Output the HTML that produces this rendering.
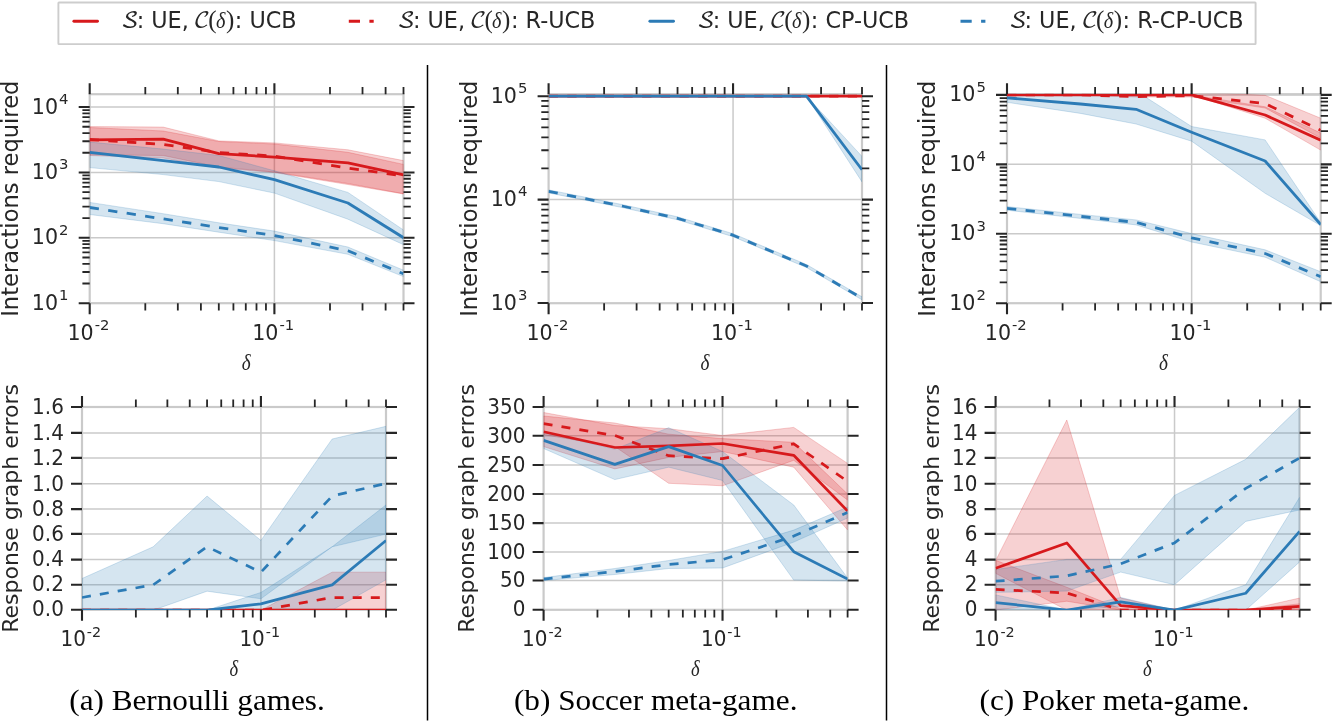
<!DOCTYPE html>
<html lang="en"><head><meta charset="utf-8"><title>Figure</title>
<style>html,body{margin:0;padding:0;background:#fff}body{width:1334px;height:724px;overflow:hidden}svg{display:block}</style>
</head><body>
<svg width="1334" height="724" viewBox="0 0 1334 724">
<rect width="1334" height="724" fill="#fff"/>
<defs>
<clipPath id="c1"><rect x="89.7" y="93.8" width="313.8" height="209.4"/></clipPath>
<clipPath id="c2"><rect x="548.6" y="93.8" width="313.4" height="209.4"/></clipPath>
<clipPath id="c3"><rect x="1007" y="93.8" width="313.7" height="209.4"/></clipPath>
<clipPath id="c4"><rect x="82" y="407" width="304" height="203.1"/></clipPath>
<clipPath id="c5"><rect x="543.6" y="407" width="304" height="203.1"/></clipPath>
<clipPath id="c6"><rect x="995.6" y="407" width="304" height="203.1"/></clipPath>
</defs>
<g>
<path d="M274.4 94.2V303.2M89.7 237.82H403.5M89.7 172.43H403.5M89.7 107.05H403.5" stroke="#cacaca" stroke-width="1.5" fill="none"/>
<rect x="89.7" y="94.2" width="313.8" height="209" fill="none" stroke="#cacaca" stroke-width="2.2"/>
<g clip-path="url(#c1)">
<polygon points="89.7,126.6 163.2,127.1 218.8,140.9 274.4,142.9 347.9,149.8 403.5,160.6 403.5,193.7 347.9,183.5 274.4,172 218.8,167 163.2,155.5 89.7,154.8" fill="#d7191c" fill-opacity="0.2" stroke="#d7191c" stroke-opacity="0.35" stroke-width="0.6" stroke-linejoin="round"/>
<polygon points="89.7,127.5 163.2,131 218.8,141.5 274.4,144 347.9,152.3 403.5,164.4 403.5,194 347.9,184.5 274.4,172.5 218.8,168 163.2,158 89.7,155.5" fill="#d7191c" fill-opacity="0.2" stroke="#d7191c" stroke-opacity="0.35" stroke-width="0.6" stroke-linejoin="round"/>
<polygon points="89.7,142.1 163.2,149.1 218.8,155.5 274.4,170.8 347.9,192.4 403.5,230 403.5,244.7 347.9,219.2 274.4,193.1 218.8,181.6 163.2,174.6 89.7,167.6" fill="#2c7bb6" fill-opacity="0.2" stroke="#2c7bb6" stroke-opacity="0.35" stroke-width="0.6" stroke-linejoin="round"/>
<polygon points="89.7,202.4 163.2,213.7 218.8,222.8 274.4,231.1 347.9,247 403.5,270.2 403.5,276.6 347.9,254.3 274.4,240.6 218.8,232.2 163.2,223.7 89.7,214.5" fill="#2c7bb6" fill-opacity="0.2" stroke="#2c7bb6" stroke-opacity="0.35" stroke-width="0.6" stroke-linejoin="round"/>
<path d="M89.7 139.9 L163.2 139.2 L218.8 153.6 L274.4 157.1 L347.9 162.9 L403.5 174.9" fill="none" stroke="#d7191c" stroke-width="2.8" stroke-linejoin="round" stroke-linecap="butt"/>
<path d="M89.7 139.5 L163.2 144.4 L218.8 152.5 L274.4 156.1 L347.9 168.2 L403.5 175.8" fill="none" stroke="#d7191c" stroke-width="2.8" stroke-linejoin="round" stroke-linecap="butt" stroke-dasharray="9.3 9.4"/>
<path d="M89.7 152.3 L163.2 160.6 L218.8 167 L274.4 179.7 L347.9 203 L403.5 237.7" fill="none" stroke="#2c7bb6" stroke-width="2.8" stroke-linejoin="round" stroke-linecap="butt"/>
<path d="M89.7 207.5 L163.2 218.9 L218.8 227.5 L274.4 235.5 L347.9 250.8 L403.5 273.8" fill="none" stroke="#2c7bb6" stroke-width="2.8" stroke-linejoin="round" stroke-linecap="butt" stroke-dasharray="9.3 9.4"/>
</g>

<path d="M145.3 303.2v7.3M145.3 94.2v-7.3M177.82 303.2v7.3M177.82 94.2v-7.3M200.9 303.2v7.3M200.9 94.2v-7.3M218.8 303.2v7.3M218.8 94.2v-7.3M233.42 303.2v7.3M233.42 94.2v-7.3M245.79 303.2v7.3M245.79 94.2v-7.3M256.5 303.2v7.3M256.5 94.2v-7.3M265.95 303.2v7.3M265.95 94.2v-7.3M330 303.2v7.3M330 94.2v-7.3M362.52 303.2v7.3M362.52 94.2v-7.3M385.6 303.2v7.3M385.6 94.2v-7.3M403.5 303.2v7.3M403.5 94.2v-7.3M89.7 283.52h-7.3M403.5 283.52h7.3M89.7 272h-7.3M403.5 272h7.3M89.7 263.84h-7.3M403.5 263.84h7.3M89.7 257.5h-7.3M403.5 257.5h7.3M89.7 252.32h-7.3M403.5 252.32h7.3M89.7 247.94h-7.3M403.5 247.94h7.3M89.7 244.15h-7.3M403.5 244.15h7.3M89.7 240.81h-7.3M403.5 240.81h7.3M89.7 218.13h-7.3M403.5 218.13h7.3M89.7 206.62h-7.3M403.5 206.62h7.3M89.7 198.45h-7.3M403.5 198.45h7.3M89.7 192.12h-7.3M403.5 192.12h7.3M89.7 186.94h-7.3M403.5 186.94h7.3M89.7 182.56h-7.3M403.5 182.56h7.3M89.7 178.77h-7.3M403.5 178.77h7.3M89.7 175.43h-7.3M403.5 175.43h7.3M89.7 152.75h-7.3M403.5 152.75h7.3M89.7 141.24h-7.3M403.5 141.24h7.3M89.7 133.07h-7.3M403.5 133.07h7.3M89.7 126.73h-7.3M403.5 126.73h7.3M89.7 121.56h-7.3M403.5 121.56h7.3M89.7 117.18h-7.3M403.5 117.18h7.3M89.7 113.39h-7.3M403.5 113.39h7.3M89.7 110.04h-7.3M403.5 110.04h7.3" stroke="#262626" stroke-width="1.8" fill="none"/>
<path d="M89.7 303.2v11M89.7 94.2v-11M274.4 303.2v11M274.4 94.2v-11M89.7 303.2h-11M403.5 303.2h11M89.7 237.82h-11M403.5 237.82h11M89.7 172.43h-11M403.5 172.43h11M89.7 107.05h-11M403.5 107.05h11" stroke="#262626" stroke-width="2.1" fill="none"/>
<g fill="#262626" font-family="'DejaVu Sans', 'Liberation Sans', sans-serif">
<text transform="translate(88.5 339.7)" text-anchor="middle" font-size="20.6">10<tspan dx="1" dy="-9.7" font-size="14.8">-2</tspan></text>
<text transform="translate(273.2 339.7)" text-anchor="middle" font-size="20.6">10<tspan dx="1" dy="-9.7" font-size="14.8">-1</tspan></text>
<text transform="translate(68.5 309.7)" text-anchor="end" font-size="20.6">10<tspan dx="1" dy="-9.7" font-size="14.8">1</tspan></text>
<text transform="translate(68.5 244.32)" text-anchor="end" font-size="20.6">10<tspan dx="1" dy="-9.7" font-size="14.8">2</tspan></text>
<text transform="translate(68.5 178.93)" text-anchor="end" font-size="20.6">10<tspan dx="1" dy="-9.7" font-size="14.8">3</tspan></text>
<text transform="translate(68.5 113.55)" text-anchor="end" font-size="20.6">10<tspan dx="1" dy="-9.7" font-size="14.8">4</tspan></text>
<text transform="translate(17.6 198.7) rotate(-90)" text-anchor="middle" font-size="22.6">Interactions required</text>
</g>
<text transform="translate(246.3 369.5) scale(0.84 1)" text-anchor="middle" font-size="22.8" font-style="italic" fill="#262626" font-family="'Liberation Serif', 'DejaVu Serif', serif">δ</text>
</g>
<g>
<path d="M733.06 94.2V303.2M548.6 199.6H862M548.6 96.2H862" stroke="#cacaca" stroke-width="1.5" fill="none"/>
<rect x="548.6" y="94.2" width="313.4" height="209" fill="none" stroke="#cacaca" stroke-width="2.2"/>
<g clip-path="url(#c2)">
<polygon points="548.6,96.2 622.01,96.2 677.54,96.2 733.06,96.2 806.47,96.2 862,156.4 862,181.9 806.47,96.2 733.06,96.2 677.54,96.2 622.01,96.2 548.6,96.2" fill="#2c7bb6" fill-opacity="0.2" stroke="#2c7bb6" stroke-opacity="0.35" stroke-width="0.6" stroke-linejoin="round"/>
<polygon points="548.6,189.9 622.01,204.5 677.54,216.8 733.06,233.7 806.47,264.5 862,296.8 862,299.8 806.47,267.5 733.06,236.7 677.54,219.8 622.01,207.5 548.6,192.9" fill="#2c7bb6" fill-opacity="0.2" stroke="#2c7bb6" stroke-opacity="0.35" stroke-width="0.6" stroke-linejoin="round"/>
<path d="M548.6 96.2 L622.01 96.2 L677.54 96.2 L733.06 96.2 L806.47 96.2 L862 96.2" fill="none" stroke="#d7191c" stroke-width="2.8" stroke-linejoin="round" stroke-linecap="butt"/>
<path d="M548.6 96.2 L622.01 96.2 L677.54 96.2 L733.06 96.2 L806.47 96.2 L862 96.2" fill="none" stroke="#d7191c" stroke-width="2.8" stroke-linejoin="round" stroke-linecap="butt" stroke-dasharray="9.3 9.4"/>
<path d="M548.6 96.2 L622.01 96.2 L677.54 96.2 L733.06 96.2 L806.47 96.2 L862 169.7" fill="none" stroke="#2c7bb6" stroke-width="2.8" stroke-linejoin="round" stroke-linecap="butt"/>
<path d="M548.6 191.4 L622.01 206 L677.54 218.3 L733.06 235.2 L806.47 266 L862 298.3" fill="none" stroke="#2c7bb6" stroke-width="2.8" stroke-linejoin="round" stroke-linecap="butt" stroke-dasharray="9.3 9.4"/>
</g>

<path d="M604.13 303.2v7.3M604.13 94.2v-7.3M636.61 303.2v7.3M636.61 94.2v-7.3M659.66 303.2v7.3M659.66 94.2v-7.3M677.54 303.2v7.3M677.54 94.2v-7.3M692.14 303.2v7.3M692.14 94.2v-7.3M704.49 303.2v7.3M704.49 94.2v-7.3M715.19 303.2v7.3M715.19 94.2v-7.3M724.62 303.2v7.3M724.62 94.2v-7.3M788.59 303.2v7.3M788.59 94.2v-7.3M821.08 303.2v7.3M821.08 94.2v-7.3M844.12 303.2v7.3M844.12 94.2v-7.3M862 303.2v7.3M862 94.2v-7.3M548.6 271.87h-7.3M862 271.87h7.3M548.6 253.67h-7.3M862 253.67h7.3M548.6 240.75h-7.3M862 240.75h7.3M548.6 230.73h-7.3M862 230.73h7.3M548.6 222.54h-7.3M862 222.54h7.3M548.6 215.62h-7.3M862 215.62h7.3M548.6 209.62h-7.3M862 209.62h7.3M548.6 204.33h-7.3M862 204.33h7.3M548.6 168.47h-7.3M862 168.47h7.3M548.6 150.27h-7.3M862 150.27h7.3M548.6 137.35h-7.3M862 137.35h7.3M548.6 127.33h-7.3M862 127.33h7.3M548.6 119.14h-7.3M862 119.14h7.3M548.6 112.22h-7.3M862 112.22h7.3M548.6 106.22h-7.3M862 106.22h7.3M548.6 100.93h-7.3M862 100.93h7.3" stroke="#262626" stroke-width="1.8" fill="none"/>
<path d="M548.6 303.2v11M548.6 94.2v-11M733.06 303.2v11M733.06 94.2v-11M548.6 303h-11M862 303h11M548.6 199.6h-11M862 199.6h11M548.6 96.2h-11M862 96.2h11" stroke="#262626" stroke-width="2.1" fill="none"/>
<g fill="#262626" font-family="'DejaVu Sans', 'Liberation Sans', sans-serif">
<text transform="translate(547.4 339.7)" text-anchor="middle" font-size="20.6">10<tspan dx="1" dy="-9.7" font-size="14.8">-2</tspan></text>
<text transform="translate(731.86 339.7)" text-anchor="middle" font-size="20.6">10<tspan dx="1" dy="-9.7" font-size="14.8">-1</tspan></text>
<text transform="translate(527.4 309.5)" text-anchor="end" font-size="20.6">10<tspan dx="1" dy="-9.7" font-size="14.8">3</tspan></text>
<text transform="translate(527.4 206.1)" text-anchor="end" font-size="20.6">10<tspan dx="1" dy="-9.7" font-size="14.8">4</tspan></text>
<text transform="translate(527.4 102.7)" text-anchor="end" font-size="20.6">10<tspan dx="1" dy="-9.7" font-size="14.8">5</tspan></text>
<text transform="translate(477 198.7) rotate(-90)" text-anchor="middle" font-size="22.6">Interactions required</text>
</g>
<text transform="translate(705 369.5) scale(0.84 1)" text-anchor="middle" font-size="22.8" font-style="italic" fill="#262626" font-family="'Liberation Serif', 'DejaVu Serif', serif">δ</text>
</g>
<g>
<path d="M1191.64 94.2V303.2M1007 233.77H1320.7M1007 164.33H1320.7M1007 94.9H1320.7" stroke="#cacaca" stroke-width="1.5" fill="none"/>
<rect x="1007" y="94.2" width="313.7" height="209" fill="none" stroke="#cacaca" stroke-width="2.2"/>
<g clip-path="url(#c3)">
<polygon points="1007,94.9 1080.48,94.9 1136.06,94.9 1191.64,94.9 1265.12,106.8 1320.7,133 1320.7,150.1 1265.12,118.2 1191.64,94.9 1136.06,94.9 1080.48,94.9 1007,94.9" fill="#d7191c" fill-opacity="0.2" stroke="#d7191c" stroke-opacity="0.35" stroke-width="0.6" stroke-linejoin="round"/>
<polygon points="1007,94.9 1080.48,94.9 1136.06,94.9 1191.64,92 1265.12,95.3 1320.7,118.2 1320.7,138 1265.12,108 1191.64,97 1136.06,97 1080.48,94.9 1007,94.9" fill="#d7191c" fill-opacity="0.2" stroke="#d7191c" stroke-opacity="0.35" stroke-width="0.6" stroke-linejoin="round"/>
<polygon points="1007,92 1080.48,90 1136.06,91 1191.64,126.5 1265.12,139.9 1320.7,222.6 1320.7,225.6 1265.12,193.3 1191.64,141.2 1136.06,124 1080.48,113.4 1007,102.3" fill="#2c7bb6" fill-opacity="0.2" stroke="#2c7bb6" stroke-opacity="0.35" stroke-width="0.6" stroke-linejoin="round"/>
<polygon points="1007,206.6 1080.48,214.4 1136.06,219.9 1191.64,233.6 1265.12,249.8 1320.7,271.7 1320.7,281.7 1265.12,257.2 1191.64,242 1136.06,224.9 1080.48,218.4 1007,210.2" fill="#2c7bb6" fill-opacity="0.2" stroke="#2c7bb6" stroke-opacity="0.35" stroke-width="0.6" stroke-linejoin="round"/>
<path d="M1007 94.9 L1080.48 94.9 L1136.06 94.9 L1191.64 94.9 L1265.12 115 L1320.7 140.2" fill="none" stroke="#d7191c" stroke-width="2.8" stroke-linejoin="round" stroke-linecap="butt"/>
<path d="M1007 94.9 L1080.48 94.9 L1136.06 96.6 L1191.64 95.6 L1265.12 103.6 L1320.7 130.3" fill="none" stroke="#d7191c" stroke-width="2.8" stroke-linejoin="round" stroke-linecap="butt" stroke-dasharray="9.3 9.4"/>
<path d="M1007 97.8 L1080.48 104 L1136.06 109.3 L1191.64 132.25 L1265.12 161 L1320.7 224.5" fill="none" stroke="#2c7bb6" stroke-width="2.8" stroke-linejoin="round" stroke-linecap="butt"/>
<path d="M1007 208.4 L1080.48 216.4 L1136.06 222.4 L1191.64 237.8 L1265.12 253.5 L1320.7 276.7" fill="none" stroke="#2c7bb6" stroke-width="2.8" stroke-linejoin="round" stroke-linecap="butt" stroke-dasharray="9.3 9.4"/>
</g>

<path d="M1062.58 303.2v7.3M1062.58 94.2v-7.3M1095.1 303.2v7.3M1095.1 94.2v-7.3M1118.17 303.2v7.3M1118.17 94.2v-7.3M1136.06 303.2v7.3M1136.06 94.2v-7.3M1150.68 303.2v7.3M1150.68 94.2v-7.3M1163.04 303.2v7.3M1163.04 94.2v-7.3M1173.75 303.2v7.3M1173.75 94.2v-7.3M1183.19 303.2v7.3M1183.19 94.2v-7.3M1247.22 303.2v7.3M1247.22 94.2v-7.3M1279.74 303.2v7.3M1279.74 94.2v-7.3M1302.81 303.2v7.3M1302.81 94.2v-7.3M1320.7 303.2v7.3M1320.7 94.2v-7.3M1007 282.3h-7.3M1320.7 282.3h7.3M1007 270.07h-7.3M1320.7 270.07h7.3M1007 261.4h-7.3M1320.7 261.4h7.3M1007 254.67h-7.3M1320.7 254.67h7.3M1007 249.17h-7.3M1320.7 249.17h7.3M1007 244.52h-7.3M1320.7 244.52h7.3M1007 240.5h-7.3M1320.7 240.5h7.3M1007 236.94h-7.3M1320.7 236.94h7.3M1007 212.87h-7.3M1320.7 212.87h7.3M1007 200.64h-7.3M1320.7 200.64h7.3M1007 191.96h-7.3M1320.7 191.96h7.3M1007 185.23h-7.3M1320.7 185.23h7.3M1007 179.74h-7.3M1320.7 179.74h7.3M1007 175.09h-7.3M1320.7 175.09h7.3M1007 171.06h-7.3M1320.7 171.06h7.3M1007 167.51h-7.3M1320.7 167.51h7.3M1007 143.43h-7.3M1320.7 143.43h7.3M1007 131.21h-7.3M1320.7 131.21h7.3M1007 122.53h-7.3M1320.7 122.53h7.3M1007 115.8h-7.3M1320.7 115.8h7.3M1007 110.3h-7.3M1320.7 110.3h7.3M1007 105.66h-7.3M1320.7 105.66h7.3M1007 101.63h-7.3M1320.7 101.63h7.3M1007 98.08h-7.3M1320.7 98.08h7.3" stroke="#262626" stroke-width="1.8" fill="none"/>
<path d="M1007 303.2v11M1007 94.2v-11M1191.64 303.2v11M1191.64 94.2v-11M1007 303.2h-11M1320.7 303.2h11M1007 233.77h-11M1320.7 233.77h11M1007 164.33h-11M1320.7 164.33h11M1007 94.9h-11M1320.7 94.9h11" stroke="#262626" stroke-width="2.1" fill="none"/>
<g fill="#262626" font-family="'DejaVu Sans', 'Liberation Sans', sans-serif">
<text transform="translate(1005.8 339.7)" text-anchor="middle" font-size="20.6">10<tspan dx="1" dy="-9.7" font-size="14.8">-2</tspan></text>
<text transform="translate(1190.44 339.7)" text-anchor="middle" font-size="20.6">10<tspan dx="1" dy="-9.7" font-size="14.8">-1</tspan></text>
<text transform="translate(985.8 309.7)" text-anchor="end" font-size="20.6">10<tspan dx="1" dy="-9.7" font-size="14.8">2</tspan></text>
<text transform="translate(985.8 240.27)" text-anchor="end" font-size="20.6">10<tspan dx="1" dy="-9.7" font-size="14.8">3</tspan></text>
<text transform="translate(985.8 170.83)" text-anchor="end" font-size="20.6">10<tspan dx="1" dy="-9.7" font-size="14.8">4</tspan></text>
<text transform="translate(985.8 101.4)" text-anchor="end" font-size="20.6">10<tspan dx="1" dy="-9.7" font-size="14.8">5</tspan></text>
<text transform="translate(935.1 198.7) rotate(-90)" text-anchor="middle" font-size="22.6">Interactions required</text>
</g>
<text transform="translate(1163.55 369.5) scale(0.84 1)" text-anchor="middle" font-size="22.8" font-style="italic" fill="#262626" font-family="'Liberation Serif', 'DejaVu Serif', serif">δ</text>
</g>
<g>
<path d="M260.93 407V609.8M82 584.7H386M82 559.6H386M82 533.9H386M82 509.1H386M82 483.8H386M82 457.9H386M82 432.9H386" stroke="#cacaca" stroke-width="1.5" fill="none"/>
<rect x="82" y="407" width="304" height="202.8" fill="none" stroke="#cacaca" stroke-width="2.2"/>
<g clip-path="url(#c4)">
<polygon points="82,610.2 153.2,610.2 207.07,610.2 260.93,610.2 332.14,572.16 386,572.16 386,610.2 332.14,610.2 260.93,610.2 207.07,610.2 153.2,610.2 82,610.2" fill="#d7191c" fill-opacity="0.2" stroke="#d7191c" stroke-opacity="0.35" stroke-width="0.6" stroke-linejoin="round"/>
<polygon points="82,610.2 153.2,610.2 207.07,610.2 260.93,592.45 332.14,546.79 386,504.95 386,579.77 332.14,610.2 260.93,610.2 207.07,610.2 153.2,610.2 82,610.2" fill="#2c7bb6" fill-opacity="0.2" stroke="#2c7bb6" stroke-opacity="0.35" stroke-width="0.6" stroke-linejoin="round"/>
<polygon points="82,578.5 153.2,546.79 207.07,496.07 260.93,540.45 332.14,439 386,426.32 386,534.11 332.14,546.79 260.93,598.79 207.07,591.18 153.2,610.2 82,610.2" fill="#2c7bb6" fill-opacity="0.2" stroke="#2c7bb6" stroke-opacity="0.35" stroke-width="0.6" stroke-linejoin="round"/>
<path d="M82 610.2 L153.2 610.2 L207.07 610.2 L260.93 610.2 L332.14 610.2 L386 610.2" fill="none" stroke="#d7191c" stroke-width="2.71" stroke-linejoin="round" stroke-linecap="butt"/>
<path d="M82 610.2 L153.2 610.2 L207.07 610.2 L260.93 610.2 L332.14 597.52 L386 597.52" fill="none" stroke="#d7191c" stroke-width="2.71" stroke-linejoin="round" stroke-linecap="butt" stroke-dasharray="9.01 9.11"/>
<path d="M82 610.2 L153.2 610.2 L207.07 610.2 L260.93 603.86 L332.14 584.84 L386 540.45" fill="none" stroke="#2c7bb6" stroke-width="2.71" stroke-linejoin="round" stroke-linecap="butt"/>
<path d="M82 597.52 L153.2 584.84 L207.07 546.79 L260.93 572.16 L332.14 496.07 L386 483.39" fill="none" stroke="#2c7bb6" stroke-width="2.71" stroke-linejoin="round" stroke-linecap="butt" stroke-dasharray="9.01 9.11"/>
</g>

<path d="M135.86 609.8v7.6M135.86 407v-7.6M167.37 609.8v7.6M167.37 407v-7.6M189.73 609.8v7.6M189.73 407v-7.6M207.07 609.8v7.6M207.07 407v-7.6M221.24 609.8v7.6M221.24 407v-7.6M233.22 609.8v7.6M233.22 407v-7.6M243.59 609.8v7.6M243.59 407v-7.6M252.74 609.8v7.6M252.74 407v-7.6M314.8 609.8v7.6M314.8 407v-7.6M346.3 609.8v7.6M346.3 407v-7.6M368.66 609.8v7.6M368.66 407v-7.6M386 609.8v7.6M386 407v-7.6" stroke="#262626" stroke-width="1.8" fill="none"/>
<path d="M82 609.8v11M82 407v-11M260.93 609.8v11M260.93 407v-11M82 609.7h-11M386 609.7h11M82 584.7h-11M386 584.7h11M82 559.6h-11M386 559.6h11M82 533.9h-11M386 533.9h11M82 509.1h-11M386 509.1h11M82 483.8h-11M386 483.8h11M82 457.9h-11M386 457.9h11M82 432.9h-11M386 432.9h11M82 407h-11M386 407h11" stroke="#262626" stroke-width="2.1" fill="none"/>
<g fill="#262626" font-family="'DejaVu Sans', 'Liberation Sans', sans-serif">
<text transform="translate(80.8 646.3) scale(0.969 1)" text-anchor="middle" font-size="20.6">10<tspan dx="1" dy="-9.7" font-size="14.8">-2</tspan></text>
<text transform="translate(259.73 646.3) scale(0.969 1)" text-anchor="middle" font-size="20.6">10<tspan dx="1" dy="-9.7" font-size="14.8">-1</tspan></text>
<text transform="translate(63.84 616.4) scale(0.969 1)" text-anchor="end" font-size="20.6">0.0</text>
<text transform="translate(63.84 591.4) scale(0.969 1)" text-anchor="end" font-size="20.6">0.2</text>
<text transform="translate(63.84 566.3) scale(0.969 1)" text-anchor="end" font-size="20.6">0.4</text>
<text transform="translate(63.84 540.6) scale(0.969 1)" text-anchor="end" font-size="20.6">0.6</text>
<text transform="translate(63.84 515.8) scale(0.969 1)" text-anchor="end" font-size="20.6">0.8</text>
<text transform="translate(63.84 490.5) scale(0.969 1)" text-anchor="end" font-size="20.6">1.0</text>
<text transform="translate(63.84 464.6) scale(0.969 1)" text-anchor="end" font-size="20.6">1.2</text>
<text transform="translate(63.84 439.6) scale(0.969 1)" text-anchor="end" font-size="20.6">1.4</text>
<text transform="translate(63.84 413.7) scale(0.969 1)" text-anchor="end" font-size="20.6">1.6</text>
<text transform="translate(18.2 508.4) rotate(-90)" text-anchor="middle" font-size="22">Response graph errors</text>
</g>
<text transform="translate(233.7 676.1) scale(0.84 1)" text-anchor="middle" font-size="22.09" font-style="italic" fill="#262626" font-family="'Liberation Serif', 'DejaVu Serif', serif">δ</text>
</g>
<g>
<path d="M722.53 407V609.8M543.6 580.5H847.6M543.6 552H847.6M543.6 523.1H847.6M543.6 494H847.6M543.6 465H847.6M543.6 435.8H847.6" stroke="#cacaca" stroke-width="1.5" fill="none"/>
<rect x="543.6" y="407" width="304" height="202.8" fill="none" stroke="#cacaca" stroke-width="2.2"/>
<g clip-path="url(#c5)">
<polygon points="543.6,416 614.8,423 668.67,434.2 722.53,438.6 793.74,442.3 847.6,494 847.6,530 793.74,467.2 722.53,451.5 668.67,457.4 614.8,468.9 543.6,446.6" fill="#d7191c" fill-opacity="0.2" stroke="#d7191c" stroke-opacity="0.35" stroke-width="0.6" stroke-linejoin="round"/>
<polygon points="543.6,412.5 614.8,425.5 668.67,428.7 722.53,435.5 793.74,427.4 847.6,463.4 847.6,500 793.74,460.3 722.53,485.8 668.67,483.3 614.8,446.5 543.6,434.7" fill="#d7191c" fill-opacity="0.2" stroke="#d7191c" stroke-opacity="0.35" stroke-width="0.6" stroke-linejoin="round"/>
<polygon points="543.6,432.3 614.8,449.2 668.67,427.7 722.53,451.5 793.74,505 847.6,578 847.6,581 793.74,580.1 722.53,480.5 668.67,467.2 614.8,479.6 543.6,448.5" fill="#2c7bb6" fill-opacity="0.2" stroke="#2c7bb6" stroke-opacity="0.35" stroke-width="0.6" stroke-linejoin="round"/>
<polygon points="543.6,577.6 614.8,568.5 668.67,560.5 722.53,551.4 793.74,530.1 847.6,507 847.6,518 793.74,542.1 722.53,568 668.67,568.5 614.8,574.5 543.6,580.6" fill="#2c7bb6" fill-opacity="0.2" stroke="#2c7bb6" stroke-opacity="0.35" stroke-width="0.6" stroke-linejoin="round"/>
<path d="M543.6 431.7 L614.8 447.5 L668.67 445.8 L722.53 443.5 L793.74 455.3 L847.6 511" fill="none" stroke="#d7191c" stroke-width="2.71" stroke-linejoin="round" stroke-linecap="butt"/>
<path d="M543.6 423.6 L614.8 435.5 L668.67 455.7 L722.53 458.7 L793.74 443.8 L847.6 481.4" fill="none" stroke="#d7191c" stroke-width="2.71" stroke-linejoin="round" stroke-linecap="butt" stroke-dasharray="9.01 9.11"/>
<path d="M543.6 440.4 L614.8 464.4 L668.67 446.6 L722.53 465.5 L793.74 551.7 L847.6 579.1" fill="none" stroke="#2c7bb6" stroke-width="2.71" stroke-linejoin="round" stroke-linecap="butt"/>
<path d="M543.6 579.1 L614.8 571.5 L668.67 564.5 L722.53 559.7 L793.74 536.1 L847.6 512.5" fill="none" stroke="#2c7bb6" stroke-width="2.71" stroke-linejoin="round" stroke-linecap="butt" stroke-dasharray="9.01 9.11"/>
</g>

<path d="M597.46 609.8v7.6M597.46 407v-7.6M628.97 609.8v7.6M628.97 407v-7.6M651.33 609.8v7.6M651.33 407v-7.6M668.67 609.8v7.6M668.67 407v-7.6M682.84 609.8v7.6M682.84 407v-7.6M694.82 609.8v7.6M694.82 407v-7.6M705.19 609.8v7.6M705.19 407v-7.6M714.34 609.8v7.6M714.34 407v-7.6M776.4 609.8v7.6M776.4 407v-7.6M807.9 609.8v7.6M807.9 407v-7.6M830.26 609.8v7.6M830.26 407v-7.6M847.6 609.8v7.6M847.6 407v-7.6" stroke="#262626" stroke-width="1.8" fill="none"/>
<path d="M543.6 609.8v11M543.6 407v-11M722.53 609.8v11M722.53 407v-11M543.6 609.7h-11M847.6 609.7h11M543.6 580.5h-11M847.6 580.5h11M543.6 552h-11M847.6 552h11M543.6 523.1h-11M847.6 523.1h11M543.6 494h-11M847.6 494h11M543.6 465h-11M847.6 465h11M543.6 435.8h-11M847.6 435.8h11M543.6 407h-11M847.6 407h11" stroke="#262626" stroke-width="2.1" fill="none"/>
<g fill="#262626" font-family="'DejaVu Sans', 'Liberation Sans', sans-serif">
<text transform="translate(542.4 646.3) scale(0.969 1)" text-anchor="middle" font-size="20.6">10<tspan dx="1" dy="-9.7" font-size="14.8">-2</tspan></text>
<text transform="translate(721.33 646.3) scale(0.969 1)" text-anchor="middle" font-size="20.6">10<tspan dx="1" dy="-9.7" font-size="14.8">-1</tspan></text>
<text transform="translate(525.44 616.4) scale(0.969 1)" text-anchor="end" font-size="20.6">0</text>
<text transform="translate(525.44 587.2) scale(0.969 1)" text-anchor="end" font-size="20.6">50</text>
<text transform="translate(525.44 558.7) scale(0.969 1)" text-anchor="end" font-size="20.6">100</text>
<text transform="translate(525.44 529.8) scale(0.969 1)" text-anchor="end" font-size="20.6">150</text>
<text transform="translate(525.44 500.7) scale(0.969 1)" text-anchor="end" font-size="20.6">200</text>
<text transform="translate(525.44 471.7) scale(0.969 1)" text-anchor="end" font-size="20.6">250</text>
<text transform="translate(525.44 442.5) scale(0.969 1)" text-anchor="end" font-size="20.6">300</text>
<text transform="translate(525.44 413.7) scale(0.969 1)" text-anchor="end" font-size="20.6">350</text>
<text transform="translate(473.9 508.4) rotate(-90)" text-anchor="middle" font-size="22">Response graph errors</text>
</g>
<text transform="translate(695.3 676.1) scale(0.84 1)" text-anchor="middle" font-size="22.09" font-style="italic" fill="#262626" font-family="'Liberation Serif', 'DejaVu Serif', serif">δ</text>
</g>
<g>
<path d="M1174.53 407V609.8M995.6 584.7H1299.6M995.6 559.6H1299.6M995.6 533.9H1299.6M995.6 509.1H1299.6M995.6 483.8H1299.6M995.6 457.9H1299.6M995.6 432.9H1299.6" stroke="#cacaca" stroke-width="1.5" fill="none"/>
<rect x="995.6" y="407" width="304" height="202.8" fill="none" stroke="#cacaca" stroke-width="2.2"/>
<g clip-path="url(#c6)">
<polygon points="995.6,560.67 1066.8,419.98 1120.67,598.06 1174.53,610.1 1245.74,610.1 1299.6,598.06 1299.6,610.1 1245.74,610.1 1174.53,610.1 1120.67,610.1 1066.8,610.1 995.6,573.34" fill="#d7191c" fill-opacity="0.2" stroke="#d7191c" stroke-opacity="0.35" stroke-width="0.6" stroke-linejoin="round"/>
<polygon points="995.6,560.29 1066.8,587.28 1120.67,608.83 1174.53,610.1 1245.74,610.1 1299.6,603.76 1299.6,610.1 1245.74,610.1 1174.53,610.1 1120.67,610.1 1066.8,601.23 995.6,610.1" fill="#d7191c" fill-opacity="0.2" stroke="#d7191c" stroke-opacity="0.35" stroke-width="0.6" stroke-linejoin="round"/>
<polygon points="995.6,594.89 1066.8,610.1 1120.67,597.43 1174.53,610.1 1245.74,584.75 1299.6,497.29 1299.6,561.94 1245.74,610.1 1174.53,610.1 1120.67,606.3 1066.8,610.1 995.6,610.1" fill="#2c7bb6" fill-opacity="0.2" stroke="#2c7bb6" stroke-opacity="0.35" stroke-width="0.6" stroke-linejoin="round"/>
<polygon points="995.6,569.54 1066.8,559.4 1120.67,559.4 1174.53,495.39 1245.74,459.27 1299.6,407.3 1299.6,509.97 1245.74,521.38 1174.53,584.75 1120.67,572.08 1066.8,591.09 995.6,592.36" fill="#2c7bb6" fill-opacity="0.2" stroke="#2c7bb6" stroke-opacity="0.35" stroke-width="0.6" stroke-linejoin="round"/>
<path d="M995.6 568.27 L1066.8 542.92 L1120.67 605.66 L1174.53 610.1 L1245.74 610.1 L1299.6 606.3" fill="none" stroke="#d7191c" stroke-width="2.71" stroke-linejoin="round" stroke-linecap="butt"/>
<path d="M995.6 589.44 L1066.8 592.99 L1120.67 610.1 L1174.53 610.1 L1245.74 610.1 L1299.6 608.2" fill="none" stroke="#d7191c" stroke-width="2.71" stroke-linejoin="round" stroke-linecap="butt" stroke-dasharray="9.01 9.11"/>
<path d="M995.6 602.62 L1066.8 610.1 L1120.67 601.86 L1174.53 610.1 L1245.74 593.24 L1299.6 531.51" fill="none" stroke="#2c7bb6" stroke-width="2.71" stroke-linejoin="round" stroke-linecap="butt"/>
<path d="M995.6 581.2 L1066.8 575.88 L1120.67 563.84 L1174.53 542.92 L1245.74 488.42 L1299.6 458" fill="none" stroke="#2c7bb6" stroke-width="2.71" stroke-linejoin="round" stroke-linecap="butt" stroke-dasharray="9.01 9.11"/>
</g>

<path d="M1049.46 609.8v7.6M1049.46 407v-7.6M1080.97 609.8v7.6M1080.97 407v-7.6M1103.33 609.8v7.6M1103.33 407v-7.6M1120.67 609.8v7.6M1120.67 407v-7.6M1134.84 609.8v7.6M1134.84 407v-7.6M1146.82 609.8v7.6M1146.82 407v-7.6M1157.19 609.8v7.6M1157.19 407v-7.6M1166.34 609.8v7.6M1166.34 407v-7.6M1228.4 609.8v7.6M1228.4 407v-7.6M1259.9 609.8v7.6M1259.9 407v-7.6M1282.26 609.8v7.6M1282.26 407v-7.6M1299.6 609.8v7.6M1299.6 407v-7.6" stroke="#262626" stroke-width="1.8" fill="none"/>
<path d="M995.6 609.8v11M995.6 407v-11M1174.53 609.8v11M1174.53 407v-11M995.6 609.7h-11M1299.6 609.7h11M995.6 584.7h-11M1299.6 584.7h11M995.6 559.6h-11M1299.6 559.6h11M995.6 533.9h-11M1299.6 533.9h11M995.6 509.1h-11M1299.6 509.1h11M995.6 483.8h-11M1299.6 483.8h11M995.6 457.9h-11M1299.6 457.9h11M995.6 432.9h-11M1299.6 432.9h11M995.6 407h-11M1299.6 407h11" stroke="#262626" stroke-width="2.1" fill="none"/>
<g fill="#262626" font-family="'DejaVu Sans', 'Liberation Sans', sans-serif">
<text transform="translate(994.4 646.3) scale(0.969 1)" text-anchor="middle" font-size="20.6">10<tspan dx="1" dy="-9.7" font-size="14.8">-2</tspan></text>
<text transform="translate(1173.33 646.3) scale(0.969 1)" text-anchor="middle" font-size="20.6">10<tspan dx="1" dy="-9.7" font-size="14.8">-1</tspan></text>
<text transform="translate(977.44 616.4) scale(0.969 1)" text-anchor="end" font-size="20.6">0</text>
<text transform="translate(977.44 591.4) scale(0.969 1)" text-anchor="end" font-size="20.6">2</text>
<text transform="translate(977.44 566.3) scale(0.969 1)" text-anchor="end" font-size="20.6">4</text>
<text transform="translate(977.44 540.6) scale(0.969 1)" text-anchor="end" font-size="20.6">6</text>
<text transform="translate(977.44 515.8) scale(0.969 1)" text-anchor="end" font-size="20.6">8</text>
<text transform="translate(977.44 490.5) scale(0.969 1)" text-anchor="end" font-size="20.6">10</text>
<text transform="translate(977.44 464.6) scale(0.969 1)" text-anchor="end" font-size="20.6">12</text>
<text transform="translate(977.44 439.6) scale(0.969 1)" text-anchor="end" font-size="20.6">14</text>
<text transform="translate(977.44 413.7) scale(0.969 1)" text-anchor="end" font-size="20.6">16</text>
<text transform="translate(938.9 508.4) rotate(-90)" text-anchor="middle" font-size="22">Response graph errors</text>
</g>
<text transform="translate(1147.3 676.1) scale(0.84 1)" text-anchor="middle" font-size="22.09" font-style="italic" fill="#262626" font-family="'Liberation Serif', 'DejaVu Serif', serif">δ</text>
</g>
<path d="M427.5 65V720.4M886.5 65V720.4" stroke="#000" stroke-width="1.5" fill="none"/>
<rect x="58.4" y="2.5" width="1197.2" height="41.6" rx="0.6" fill="#fff" stroke="#cdcdcd" stroke-width="1.9"/>
<path d="M73.9 21.3h23.6" stroke="#d7191c" stroke-width="2.9" stroke-linecap="round" fill="none"/>
<g fill="#262626">
<text x="121.1" y="27.8" font-family="'DejaVu Math TeX Gyre', 'DejaVu Serif', serif" font-size="23">𝒮</text>
<text x="136.7" y="27.8" font-family="'DejaVu Sans', 'Liberation Sans', sans-serif" font-size="22.3">: UE,</text>
<text x="193.6" y="27.8" font-family="'DejaVu Math TeX Gyre', 'DejaVu Serif', serif" font-size="23">𝒞</text>
<text x="208.3" y="28.4" font-family="'Liberation Serif', 'DejaVu Serif', serif" font-size="25">(</text>
<text transform="translate(215.9 27.8) scale(0.86 1)" font-family="'Liberation Serif', 'DejaVu Serif', serif" font-style="italic" font-size="23.5">δ</text>
<text x="225.9" y="28.4" font-family="'Liberation Serif', 'DejaVu Serif', serif" font-size="25">)</text>
<text x="234.8" y="27.8" font-family="'DejaVu Sans', 'Liberation Sans', sans-serif" font-size="22.3">: UCB</text>
</g>
<path d="M348.8 21.3h11.2M369.4 21.3h4.3" stroke="#d7191c" stroke-width="2.9" fill="none"/>
<g fill="#262626">
<text x="397.3" y="27.8" font-family="'DejaVu Math TeX Gyre', 'DejaVu Serif', serif" font-size="23">𝒮</text>
<text x="412.9" y="27.8" font-family="'DejaVu Sans', 'Liberation Sans', sans-serif" font-size="22.3">: UE,</text>
<text x="469.8" y="27.8" font-family="'DejaVu Math TeX Gyre', 'DejaVu Serif', serif" font-size="23">𝒞</text>
<text x="484.5" y="28.4" font-family="'Liberation Serif', 'DejaVu Serif', serif" font-size="25">(</text>
<text transform="translate(492.1 27.8) scale(0.86 1)" font-family="'Liberation Serif', 'DejaVu Serif', serif" font-style="italic" font-size="23.5">δ</text>
<text x="502.1" y="28.4" font-family="'Liberation Serif', 'DejaVu Serif', serif" font-size="25">)</text>
<text x="511" y="27.8" font-family="'DejaVu Sans', 'Liberation Sans', sans-serif" font-size="22.3">: R-UCB</text>
</g>
<path d="M649.9 21.3h23.6" stroke="#2c7bb6" stroke-width="2.9" stroke-linecap="round" fill="none"/>
<g fill="#262626">
<text x="697.1" y="27.8" font-family="'DejaVu Math TeX Gyre', 'DejaVu Serif', serif" font-size="23">𝒮</text>
<text x="712.7" y="27.8" font-family="'DejaVu Sans', 'Liberation Sans', sans-serif" font-size="22.3">: UE,</text>
<text x="769.6" y="27.8" font-family="'DejaVu Math TeX Gyre', 'DejaVu Serif', serif" font-size="23">𝒞</text>
<text x="784.3" y="28.4" font-family="'Liberation Serif', 'DejaVu Serif', serif" font-size="25">(</text>
<text transform="translate(791.9 27.8) scale(0.86 1)" font-family="'Liberation Serif', 'DejaVu Serif', serif" font-style="italic" font-size="23.5">δ</text>
<text x="801.9" y="28.4" font-family="'Liberation Serif', 'DejaVu Serif', serif" font-size="25">)</text>
<text x="810.8" y="27.8" font-family="'DejaVu Sans', 'Liberation Sans', sans-serif" font-size="22.3">: CP-UCB</text>
</g>
<path d="M960.5 21.3h11.2M981.1 21.3h4.3" stroke="#2c7bb6" stroke-width="2.9" fill="none"/>
<g fill="#262626">
<text x="1008.9" y="27.8" font-family="'DejaVu Math TeX Gyre', 'DejaVu Serif', serif" font-size="23">𝒮</text>
<text x="1024.5" y="27.8" font-family="'DejaVu Sans', 'Liberation Sans', sans-serif" font-size="22.3">: UE,</text>
<text x="1081.4" y="27.8" font-family="'DejaVu Math TeX Gyre', 'DejaVu Serif', serif" font-size="23">𝒞</text>
<text x="1096.1" y="28.4" font-family="'Liberation Serif', 'DejaVu Serif', serif" font-size="25">(</text>
<text transform="translate(1103.7 27.8) scale(0.86 1)" font-family="'Liberation Serif', 'DejaVu Serif', serif" font-style="italic" font-size="23.5">δ</text>
<text x="1113.7" y="28.4" font-family="'Liberation Serif', 'DejaVu Serif', serif" font-size="25">)</text>
<text x="1122.6" y="27.8" font-family="'DejaVu Sans', 'Liberation Sans', sans-serif" font-size="22.3">: R-CP-UCB</text>
</g>
<g font-family="'Liberation Serif', 'DejaVu Serif', serif" font-size="30.4" fill="#000" text-anchor="middle">
<text x="197.05" y="709.7" textLength="255.5" lengthAdjust="spacingAndGlyphs">(a) Bernoulli games.</text>
<text x="655.7" y="709.7" textLength="283.5" lengthAdjust="spacingAndGlyphs">(b) Soccer meta-game.</text>
<text x="1114.4" y="709.7" textLength="269.8" lengthAdjust="spacingAndGlyphs">(c) Poker meta-game.</text>
</g>
</svg>
</body></html>
